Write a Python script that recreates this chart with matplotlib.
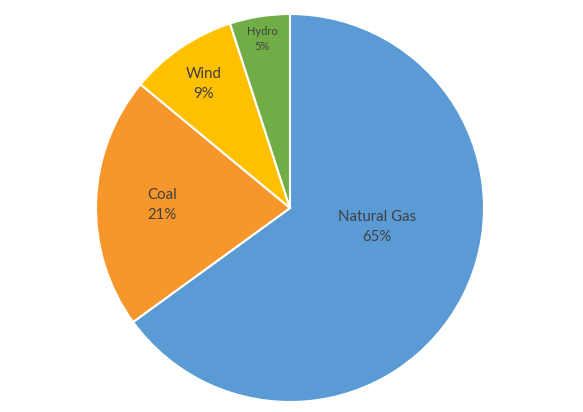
import matplotlib
matplotlib.use("Agg")
import matplotlib.pyplot as plt

categories = ["Natural Gas", "Coal", "Wind", "Hydro"]
values = [65, 21, 9, 5]
colors = ["#5B9BD5", "#F7962B", "#FFC000", "#70AD47"]

W, H = 583, 412
fig = plt.figure(figsize=(W / 100, H / 100), dpi=100)
ax = fig.add_axes([0, 0, 1, 1])
ax.set_xlim(0, W)
ax.set_ylim(0, H)
ax.set_aspect("equal")
ax.axis("off")

cx, cy, R = 290, H - 208, 194
wedges, _ = ax.pie(values, colors=colors, startangle=90, counterclock=False,
                   center=(cx, cy), radius=R,
                   wedgeprops=dict(edgecolor="white", linewidth=1.5))
ax.set_xlim(0, W)
ax.set_ylim(0, H)

label_pos = [(377, 227), (162, 205), (204, 84), (262, 39)]
sizes = [10.8, 10.8, 10.8, 8]
spacing = [1.55, 1.55, 1.55, 1.5]
for cat, v, (x, y), fs, ls in zip(categories, values, label_pos, sizes, spacing):
    ax.text(x, H - y, f"{cat}\n{v}%", ha="center", va="center",
            fontsize=fs, color="#404040", family=["Lato", "DejaVu Sans"],
            linespacing=ls)

fig.savefig("out.png", dpi=100, facecolor="white")
